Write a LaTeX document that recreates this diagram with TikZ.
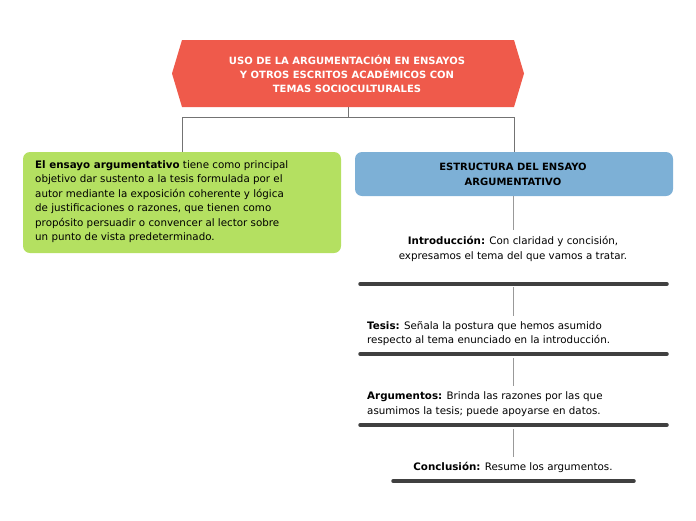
\documentclass[tikz,border=0pt]{standalone}
\usepackage{fontspec}
\setmainfont{DejaVu Sans}
\begin{document}
\begin{tikzpicture}[x=1pt,y=-1pt,
  txt/.style={font=\fontsize{10.3}{14.5}\selectfont, inner sep=0pt},
  bar/.style={draw=black!75, line width=3.5pt, line cap=round},
  conn/.style={draw=black!55, line width=0.6pt},
  thin/.style={draw=black!40, line width=0.5pt}]
\useasboundingbox (0,0) rectangle (696,520);
\definecolor{redh}{HTML}{EF5A4B}
\definecolor{greenb}{HTML}{B4E061}
\definecolor{blueb}{HTML}{7DB0D6}
% title hexagon
\fill[redh] (182,40) -- (514,40) -- (524,73.5) -- (514,107) -- (182,107) -- (172,73.5) -- cycle;
\node[txt, text=white, font=\bfseries\fontsize{10}{14}\selectfont, align=center] (title) at (347,73.5)
 {USO DE LA ARGUMENTACIÓN EN ENSAYOS\\Y OTROS ESCRITOS ACADÉMICOS CON\\TEMAS SOCIOCULTURALES};
\coordinate (tb) at (348,107);
\coordinate (j) at (348,117);
\coordinate (l) at (182,117);
\coordinate (r) at (514,117);
% boxes
\fill[greenb, rounded corners=7pt] (23,152) rectangle (341,253);
\node[txt, anchor=north west, align=left] (green) at (35,160)
 {\textbf{El ensayo argumentativo} tiene como principal\\objetivo dar sustento a la tesis formulada por el\\autor mediante la exposición coherente y lógica\\de justificaciones o razones, que tienen como\\propósito persuadir o convencer al lector sobre\\un punto de vista predeterminado.};
\fill[blueb, rounded corners=7pt] (355,152) rectangle (673,196);
\node[txt, font=\bfseries\fontsize{10}{15}\selectfont, align=center] (blue) at (513,174.5)
 {ESTRUCTURA DEL ENSAYO\\ARGUMENTATIVO};
\draw[conn] (tb) -- (j) (l) -- (r) (l) -- (182,152) (r) -- (514,152);
% structure
\draw[thin] (513,196) -- (513,230);
\node[txt, align=center] (intro) at (513,249)
 {\textbf{Introducción:} Con claridad y concisión,\\expresamos el tema del que vamos a tratar.};
\draw[bar] (360,284) -- (667,284);
\draw[thin] (513,287) -- (513,316);
\node[txt, anchor=west, align=left] (tesis) at (367,333.5)
 {\textbf{Tesis:} Señala la postura que hemos asumido\\respecto al tema enunciado en la introducción.};
\draw[bar] (360,354) -- (667,354);
\draw[thin] (513,358) -- (513,386);
\node[txt, anchor=west, align=left] (arg) at (367,404)
 {\textbf{Argumentos:} Brinda las razones por las que\\asumimos la tesis; puede apoyarse en datos.};
\draw[bar] (360,425) -- (667,425);
\draw[thin] (513,429) -- (513,457);
\node[txt, align=center] (conc) at (513,467)
 {\textbf{Conclusión:} Resume los argumentos.};
\draw[bar] (393,481) -- (634,481);
\end{tikzpicture}
\end{document}
